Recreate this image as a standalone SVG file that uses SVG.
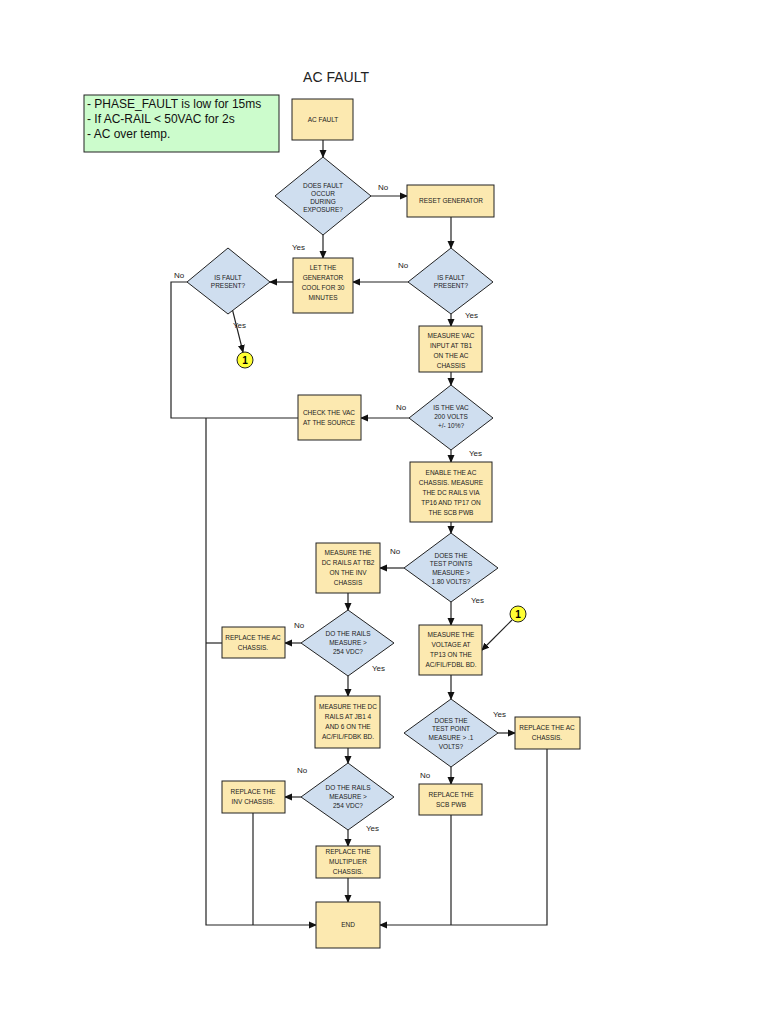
<svg xmlns="http://www.w3.org/2000/svg" width="768" height="1024" viewBox="0 0 768 1024">
<style>
.b{fill:#fce9b0;stroke:#222;stroke-width:1}
.d{fill:#cfdeef;stroke:#222;stroke-width:1}
.t{font-family:"Liberation Sans",Arial,sans-serif;font-size:6.5px;fill:#222;text-anchor:middle}
.l{font-family:"Liberation Sans",Arial,sans-serif;font-size:8px;fill:#222}
.c{fill:none;stroke:#222;stroke-width:1.2}
</style>
<defs><marker id="a" markerWidth="8" markerHeight="8" refX="7" refY="4" orient="auto" markerUnits="userSpaceOnUse"><path d="M0,0.5 L8,4 L0,7.5z" fill="#111"/></marker></defs>
<rect width="768" height="1024" fill="#fff"/>
<text x="336" y="82" font-family="Liberation Sans,Arial,sans-serif" font-size="14" text-anchor="middle" fill="#222">AC FAULT</text>
<g id="note"><rect x="84" y="95" width="195" height="57" fill="#ccfccc" stroke="#222"/>
<text font-family="Liberation Sans,Arial,sans-serif" font-size="12" fill="#111"><tspan x="87" y="108">- PHASE_FAULT is low for 15ms</tspan><tspan x="87" y="123">- If AC-RAIL &lt; 50VAC for 2s</tspan><tspan x="87" y="138">- AC over temp.</tspan></text></g>
<g id="connectors">
<path class="c" d="M323,140V157" marker-end="url(#a)"/>
<path class="c" d="M371,196H407" marker-end="url(#a)"/>
<path class="c" d="M451,217V248" marker-end="url(#a)"/>
<path class="c" d="M323,235V258" marker-end="url(#a)"/>
<path class="c" d="M408,282H353" marker-end="url(#a)"/>
<path class="c" d="M293,282H270" marker-end="url(#a)"/>
<path class="c" d="M232,308L243,352" marker-end="url(#a)"/>
<path class="c" d="M451,314V326" marker-end="url(#a)"/>
<path class="c" d="M451,372V385" marker-end="url(#a)"/>
<path class="c" d="M409,418H361" marker-end="url(#a)"/>
<path class="c" d="M187,282H171V418H298"/>
<path class="c" d="M206,418V925H316" marker-end="url(#a)"/>
<path class="c" d="M451,450V462" marker-end="url(#a)"/>
<path class="c" d="M451,522V533" marker-end="url(#a)"/>
<path class="c" d="M404,568H380" marker-end="url(#a)"/>
<path class="c" d="M451,602V625" marker-end="url(#a)"/>
<path class="c" d="M348,593V610" marker-end="url(#a)"/>
<path class="c" d="M301,643H285" marker-end="url(#a)"/>
<path class="c" d="M222,643H206"/>
<path class="c" d="M512,620L482,650" marker-end="url(#a)"/>
<path class="c" d="M348,676V696" marker-end="url(#a)"/>
<path class="c" d="M451,675V699" marker-end="url(#a)"/>
<path class="c" d="M498,733H515" marker-end="url(#a)"/>
<path class="c" d="M451,767V784" marker-end="url(#a)"/>
<path class="c" d="M348,748V763" marker-end="url(#a)"/>
<path class="c" d="M301,797H285" marker-end="url(#a)"/>
<path class="c" d="M348,830V846" marker-end="url(#a)"/>
<path class="c" d="M348,878V902" marker-end="url(#a)"/>
<path class="c" d="M253,813V925"/>
<path class="c" d="M451,815V925"/>
<path class="c" d="M547,749V925H380" marker-end="url(#a)"/>
<text class="l" x="378" y="190">No</text>
<text class="l" x="292" y="250">Yes</text>
<text class="l" x="398" y="268">No</text>
<text class="l" x="465" y="318">Yes</text>
<text class="l" x="174" y="278">No</text>
<text class="l" x="233" y="328">Yes</text>
<text class="l" x="396" y="410">No</text>
<text class="l" x="469" y="456">Yes</text>
<text class="l" x="390" y="554">No</text>
<text class="l" x="471" y="603">Yes</text>
<text class="l" x="294" y="628">No</text>
<text class="l" x="372" y="671">Yes</text>
<text class="l" x="493" y="717">Yes</text>
<text class="l" x="420" y="778">No</text>
<text class="l" x="297" y="773">No</text>
<text class="l" x="366" y="831">Yes</text>
</g>
<g id="n1"><rect class="b" x="292" y="99" width="61" height="41"/><text class="t" x="323" y="122">AC FAULT</text></g>
<g id="n2"><path class="d" d="M323,157L371,196L323,235L275,196Z"/><text class="t"><tspan x="323" y="188">DOES FAULT</tspan><tspan x="323" y="196">OCCUR</tspan><tspan x="323" y="204">DURING</tspan><tspan x="323" y="212">EXPOSURE?</tspan></text></g>
<g id="n3"><rect class="b" x="407" y="185" width="87" height="32"/><text class="t" x="451" y="203">RESET GENERATOR</text></g>
<g id="n4"><path class="d" d="M451,248L493,282L451,314L408,282Z"/><text class="t"><tspan x="451" y="280">IS FAULT</tspan><tspan x="451" y="288">PRESENT?</tspan></text></g>
<g id="n5"><rect class="b" x="293" y="258" width="60" height="55"/><text class="t"><tspan x="323" y="270">LET THE</tspan><tspan x="323" y="280">GENERATOR</tspan><tspan x="323" y="290">COOL FOR 30</tspan><tspan x="323" y="300">MINUTES</tspan></text></g>
<g id="n6"><path class="d" d="M228,248L270,282L228,314L187,282Z"/><text class="t"><tspan x="228" y="280">IS FAULT</tspan><tspan x="228" y="288">PRESENT?</tspan></text></g>
<g id="c1"><circle cx="245" cy="360" r="8" fill="#ffff33" stroke="#222"/><text x="245" y="364" font-family="Liberation Sans,Arial,sans-serif" font-size="10" font-weight="bold" text-anchor="middle">1</text></g>
<g id="n7"><rect class="b" x="419" y="326" width="63" height="46"/><text class="t"><tspan x="451" y="338">MEASURE VAC</tspan><tspan x="451" y="348">INPUT AT TB1</tspan><tspan x="451" y="358">ON THE AC</tspan><tspan x="451" y="368">CHASSIS</tspan></text></g>
<g id="n8"><path class="d" d="M451,385L493,418L451,450L409,418Z"/><text class="t"><tspan x="451" y="410">IS THE VAC</tspan><tspan x="451" y="419">200 VOLTS</tspan><tspan x="451" y="428">+/- 10%?</tspan></text></g>
<g id="n9"><rect class="b" x="298" y="395" width="63" height="45"/><text class="t"><tspan x="329" y="415">CHECK THE VAC</tspan><tspan x="329" y="425">AT THE SOURCE</tspan></text></g>
<g id="n10"><rect class="b" x="410" y="462" width="82" height="60"/><text class="t"><tspan x="451" y="475">ENABLE THE AC</tspan><tspan x="451" y="485">CHASSIS. MEASURE</tspan><tspan x="451" y="495">THE DC RAILS VIA</tspan><tspan x="451" y="505">TP16 AND TP17 ON</tspan><tspan x="451" y="515">THE SCB PWB</tspan></text></g>
<g id="n11"><path class="d" d="M451,533L498,568L451,602L404,568Z"/><text class="t"><tspan x="451" y="558">DOES THE</tspan><tspan x="451" y="566">TEST POINTS</tspan><tspan x="451" y="575">MEASURE &gt;</tspan><tspan x="451" y="584">1.80 VOLTS?</tspan></text></g>
<g id="n12"><rect class="b" x="316" y="543" width="64" height="50"/><text class="t"><tspan x="348" y="555">MEASURE THE</tspan><tspan x="348" y="565">DC RAILS AT TB2</tspan><tspan x="348" y="575">ON THE INV</tspan><tspan x="348" y="585">CHASSIS</tspan></text></g>
<g id="n13"><path class="d" d="M348,610L394,643L348,676L301,643Z"/><text class="t"><tspan x="348" y="636">DO THE RAILS</tspan><tspan x="348" y="645">MEASURE &gt;</tspan><tspan x="348" y="654">254 VDC?</tspan></text></g>
<g id="n14"><rect class="b" x="222" y="627" width="63" height="31"/><text class="t"><tspan x="253" y="640">REPLACE THE AC</tspan><tspan x="253" y="650">CHASSIS.</tspan></text></g>
<g id="c2"><circle cx="518" cy="614" r="8" fill="#ffff33" stroke="#222"/><text x="518" y="618" font-family="Liberation Sans,Arial,sans-serif" font-size="10" font-weight="bold" text-anchor="middle">1</text></g>
<g id="n15"><rect class="b" x="419" y="625" width="63" height="50"/><text class="t"><tspan x="451" y="637">MEASURE THE</tspan><tspan x="451" y="647">VOLTAGE AT</tspan><tspan x="451" y="657">TP13 ON THE</tspan><tspan x="451" y="667">AC/FIL/FDBL BD.</tspan></text></g>
<g id="n16"><rect class="b" x="315" y="696" width="65" height="52"/><text class="t"><tspan x="348" y="709">MEASURE THE DC</tspan><tspan x="348" y="719">RAILS AT JB1 4</tspan><tspan x="348" y="729">AND 6 ON THE</tspan><tspan x="348" y="739">AC/FIL/FDBK BD.</tspan></text></g>
<g id="n17"><path class="d" d="M451,699L498,733L451,767L404,733Z"/><text class="t"><tspan x="451" y="723">DOES THE</tspan><tspan x="451" y="731">TEST POINT</tspan><tspan x="451" y="740">MEASURE &gt;  .1</tspan><tspan x="451" y="749">VOLTS?</tspan></text></g>
<g id="n18"><rect class="b" x="515" y="717" width="65" height="32"/><text class="t"><tspan x="547" y="730">REPLACE THE AC</tspan><tspan x="547" y="740">CHASSIS.</tspan></text></g>
<g id="n19"><path class="d" d="M348,763L394,797L348,830L301,797Z"/><text class="t"><tspan x="348" y="790">DO THE RAILS</tspan><tspan x="348" y="799">MEASURE &gt;</tspan><tspan x="348" y="808">254 VDC?</tspan></text></g>
<g id="n20"><rect class="b" x="222" y="781" width="63" height="32"/><text class="t"><tspan x="253" y="794">REPLACE THE</tspan><tspan x="253" y="804">INV CHASSIS.</tspan></text></g>
<g id="n21"><rect class="b" x="419" y="784" width="63" height="31"/><text class="t"><tspan x="451" y="797">REPLACE THE</tspan><tspan x="451" y="807">SCB PWB</tspan></text></g>
<g id="n22"><rect class="b" x="316" y="846" width="64" height="32"/><text class="t"><tspan x="348" y="854">REPLACE THE</tspan><tspan x="348" y="864">MULTIPLIER</tspan><tspan x="348" y="874">CHASSIS.</tspan></text></g>
<g id="n23"><rect class="b" x="316" y="902" width="64" height="46"/><text class="t" x="348" y="927">END</text></g>
</svg>
